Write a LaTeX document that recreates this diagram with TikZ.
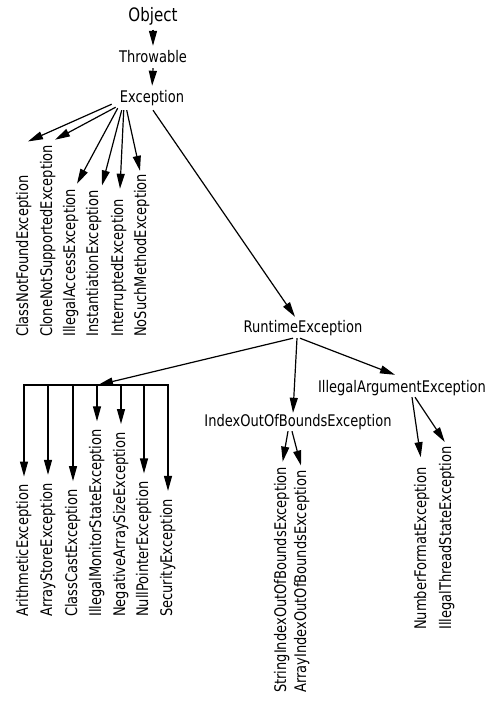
\documentclass[tikz,border=0pt]{standalone}
\usepackage{fontspec}
\setmainfont{DejaVu Sans}[FakeStretch=0.815]
\usetikzlibrary{arrows.meta}
\begin{document}
\begin{tikzpicture}[x=1pt, y=-1pt,
	lbl/.style={inner sep=1pt, text height=12pt, text depth=4pt, font=\fontsize{16pt}{19pt}\selectfont},
	vlbl/.style={lbl, rotate=90, anchor=west},
	line/.style={line width=1.2pt},
	inh/.style={line, -{Triangle[length=15pt,width=8pt]}}]
	\useasboundingbox (0,0) rectangle (497,709);

	\node[lbl, font=\fontsize{18.5pt}{22pt}\selectfont, text height=13.5pt, text depth=4.5pt] (obj) at (153,17.5) {Object};
	\node[lbl]  (thr)   at (153,59)     {Throwable};
	\node[lbl]  (exc)   at (152,98)     {Exception};

	\node[vlbl] (cnfe)  at (24,338)     {ClassNotFoundException};
	\node[vlbl] (cnse)  at (48,338)     {CloneNotSupportedException};
	\node[vlbl] (iace)  at (71,338)     {IllegalAccessException};
	\node[vlbl] (inse)  at (94,338)     {InstantiationException};
	\node[vlbl] (inte)  at (119,338)    {InterruptedException};
	\node[vlbl] (nsme)  at (142,338)    {NoSuchMethodException};

	\node[lbl]  (rte)   at (303,328)    {RuntimeException};
	\node[lbl]  (iae)   at (402,388)    {IllegalArgumentException};
	\node[lbl]  (ioob)  at (298,422)    {IndexOutOfBoundsException};

	\coordinate (bar) at (98,385);
	\node[vlbl] (arth)  at (24,618)     {ArithmeticException};
	\node[vlbl] (ase)   at (48,618)     {ArrayStoreException};
	\node[vlbl] (cce)   at (73,618)     {ClassCastException};
	\node[vlbl] (imse)  at (97,618)     {IllegalMonitorStateException};
	\node[vlbl] (nase)  at (121,618)    {NegativeArraySizeException};
	\node[vlbl] (npe)   at (144,618)    {NullPointerException};
	\node[vlbl] (sece)  at (168,618)    {SecurityException};

	\node[vlbl] (sioob) at (282,694)    {StringIndexOutOfBoundsException};
	\node[vlbl] (aioob) at (302,694)    {ArrayIndexOutOfBoundsException};
	\node[vlbl] (nfe)   at (422,631)    {NumberFormatException};
	\node[vlbl] (itse)  at (447,631)    {IllegalThreadStateException};

	\path [inh, shorten <=2pt, shorten >=4pt] (obj.south) edge (thr.north);
	\path [inh, shorten >=3pt]                (thr.south) edge (exc.north);

	\path [inh] ([xshift=-7pt,yshift=3pt]exc.south west)  edge ([xshift=4pt,yshift=33pt]cnfe.east);
	\path [inh] ([xshift=-3pt]exc.south west)             edge ([xshift=7pt,yshift=4pt]cnse.east);
	\path [inh] ([xshift=-1pt,yshift=-1pt]exc.south west) edge ([xshift=6pt,yshift=4pt]iace.east);
	\path [inh] ([xshift=3pt,yshift=-3pt]exc.south west)  edge ([xshift=8pt,yshift=4pt]inse.east);
	\path [inh] ([xshift=5pt,yshift=-3pt]exc.south west)  edge ([xshift=1pt,yshift=9pt]inte.east);
	\path [inh] ([xshift=8pt,yshift=-3pt]exc.south west)  edge ([xshift=-2pt,yshift=2pt]nsme.east);
	\path [inh] ([xshift=1pt,yshift=-3pt]exc.south)       edge ([xshift=-8pt,yshift=2pt]rte.north);

	\path [inh] ([xshift=-10pt,yshift=-1pt]rte.south) edge (bar);
	\path [inh] ([xshift=-6pt,yshift=-1pt]rte.south)  edge ([xshift=-5pt]ioob.north);
	\path [inh] ([xshift=-3pt,yshift=-1pt]rte.south)  edge ([xshift=-7pt,yshift=4pt]iae.north);

	\path [line, line cap=rect]   (arth.east |- bar) edge (sece.east |- bar);
	\path [inh, shorten >=7pt]    (arth.east |- bar) edge (arth.east);
	\path [inh, shorten >=7pt]    (ase.east |- bar)  edge (ase.east);
	\path [inh, shorten >=7pt]    (cce.east |- bar)  edge (cce.east);
	\path [inh, shorten >=7pt]    (imse.east |- bar) edge (imse.east);
	\path [inh, shorten >=7pt]    (nase.east |- bar) edge (nase.east);
	\path [inh, shorten >=7pt]    (npe.east |- bar)  edge (npe.east);
	\path [inh, shorten >=7pt]    (sece.east |- bar) edge (sece.east);

	\path [inh, shorten >=4pt] ([xshift=-10pt]ioob.south) edge (sioob.east);
	\path [inh, shorten >=4pt] ([xshift=-6pt]ioob.south)  edge (aioob.east);
	\path [inh, shorten >=9pt] ([xshift=10pt]iae.south)   edge (nfe.east);
	\path [inh, shorten >=4pt] ([xshift=13pt]iae.south)   edge (itse.east);
\end{tikzpicture}
\end{document}
